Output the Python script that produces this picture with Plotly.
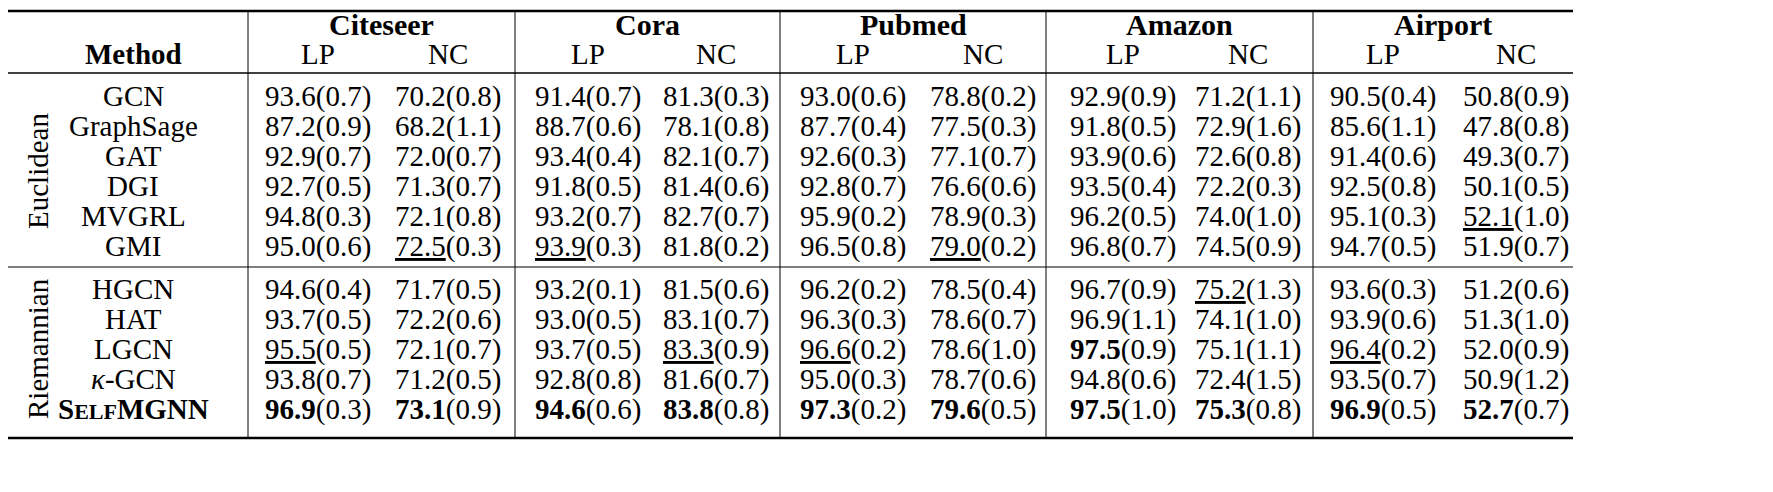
import plotly.graph_objects as go

datasets = ["Citeseer", "Cora", "Pubmed", "Amazon", "Airport"]
metrics = ["LP", "NC"]

euclid_methods = ["GCN", "GraphSage", "GAT", "DGI", "MVGRL", "GMI"]
euclid_vals = [
    ["93.6(0.7)", "70.2(0.8)", "91.4(0.7)", "81.3(0.3)", "93.0(0.6)", "78.8(0.2)", "92.9(0.9)", "71.2(1.1)", "90.5(0.4)", "50.8(0.9)"],
    ["87.2(0.9)", "68.2(1.1)", "88.7(0.6)", "78.1(0.8)", "87.7(0.4)", "77.5(0.3)", "91.8(0.5)", "72.9(1.6)", "85.6(1.1)", "47.8(0.8)"],
    ["92.9(0.7)", "72.0(0.7)", "93.4(0.4)", "82.1(0.7)", "92.6(0.3)", "77.1(0.7)", "93.9(0.6)", "72.6(0.8)", "91.4(0.6)", "49.3(0.7)"],
    ["92.7(0.5)", "71.3(0.7)", "91.8(0.5)", "81.4(0.6)", "92.8(0.7)", "76.6(0.6)", "93.5(0.4)", "72.2(0.3)", "92.5(0.8)", "50.1(0.5)"],
    ["94.8(0.3)", "72.1(0.8)", "93.2(0.7)", "82.7(0.7)", "95.9(0.2)", "78.9(0.3)", "96.2(0.5)", "74.0(1.0)", "95.1(0.3)", "u52.1(1.0)"],
    ["95.0(0.6)", "u72.5(0.3)", "u93.9(0.3)", "81.8(0.2)", "96.5(0.8)", "u79.0(0.2)", "96.8(0.7)", "74.5(0.9)", "94.7(0.5)", "51.9(0.7)"],
]

riem_methods = ["HGCN", "HAT", "LGCN", "<i>κ</i>-GCN",
                "<b>S<span style='font-size:22px'>ELF</span>MGNN</b>"]
riem_vals = [
    ["94.6(0.4)", "71.7(0.5)", "93.2(0.1)", "81.5(0.6)", "96.2(0.2)", "78.5(0.4)", "96.7(0.9)", "u75.2(1.3)", "93.6(0.3)", "51.2(0.6)"],
    ["93.7(0.5)", "72.2(0.6)", "93.0(0.5)", "83.1(0.7)", "96.3(0.3)", "78.6(0.7)", "96.9(1.1)", "74.1(1.0)", "93.9(0.6)", "51.3(1.0)"],
    ["u95.5(0.5)", "72.1(0.7)", "93.7(0.5)", "u83.3(0.9)", "u96.6(0.2)", "78.6(1.0)", "b97.5(0.9)", "75.1(1.1)", "u96.4(0.2)", "52.0(0.9)"],
    ["93.8(0.7)", "71.2(0.5)", "92.8(0.8)", "81.6(0.7)", "95.0(0.3)", "78.7(0.6)", "94.8(0.6)", "72.4(1.5)", "93.5(0.7)", "50.9(1.2)"],
    ["b96.9(0.3)", "b73.1(0.9)", "b94.6(0.6)", "b83.8(0.8)", "b97.3(0.2)", "b79.6(0.5)", "b97.5(1.0)", "b75.3(0.8)", "b96.9(0.5)", "b52.7(0.7)"],
]

# layout (pixel positions)
W, H = 1773, 492
col_x = [310, 440, 580, 708, 845, 975, 1115, 1240, 1375, 1508]
method_x = 125
vlines = [240, 507, 772, 1038, 1305]
right = 1565
euclid_y = [88, 118, 148, 178, 208, 238]
riem_y = [281, 311, 341, 371, 401]
FONT = "Liberation Serif, Times New Roman, serif"
FS = 29


def fmt(s):
    if s.startswith("b"):
        v = s[1:]
        i = v.index("(")
        return "<b>" + v[:i] + "</b>" + v[i:]
    if s.startswith("u"):
        v = s[1:]
        i = v.index("(")
        return "<u>" + v[:i] + "</u>" + v[i:]
    return s


fig = go.Figure()
ann = []


def add(x, y, t, size=FS, angle=0):
    ann.append(dict(x=x, y=y, text=t, showarrow=False, xref="x", yref="y",
                    textangle=angle, font=dict(family=FONT, size=size, color="black"),
                    xanchor="center", yanchor="middle"))


for k, d in enumerate(datasets):
    cx = (vlines[k] + (vlines[k + 1] if k + 1 < len(vlines) else right)) / 2
    add(cx, 16, "<b>" + d + "</b>", size=FS + 1)
    for j, m in enumerate(metrics):
        add(col_x[2 * k + j], 46, m)
add(method_x, 46, "<b>Method</b>")

for methods, vals, ys in [(euclid_methods, euclid_vals, euclid_y), (riem_methods, riem_vals, riem_y)]:
    for m, row, y in zip(methods, vals, ys):
        add(method_x, y, m)
        for x, v in zip(col_x, row):
            add(x, y, fmt(v))

add(30, sum(euclid_y) / len(euclid_y), "Euclidean", angle=-90)
add(30, sum(riem_y) / len(riem_y), "Riemannian", angle=-90)

shapes = []
for y, w in [(3, 2.5), (65, 1.5), (259, 1.2), (430, 2.5)]:
    shapes.append(dict(type="line", x0=0, x1=right, y0=y, y1=y, xref="x", yref="y",
                       line=dict(color="black", width=w)))
for x in vlines:
    shapes.append(dict(type="line", x0=x, x1=x, y0=3, y1=430, xref="x", yref="y",
                       line=dict(color="black", width=1)))

fig.update_layout(
    width=W, height=H, margin=dict(l=0, r=0, t=0, b=0),
    paper_bgcolor="white", plot_bgcolor="white",
    xaxis=dict(range=[0, W], visible=False, fixedrange=True),
    yaxis=dict(range=[H, 0], visible=False, fixedrange=True),
    annotations=ann, shapes=shapes, showlegend=False,
)
fig.write_html("out.html", config={"displayModeBar": False})
